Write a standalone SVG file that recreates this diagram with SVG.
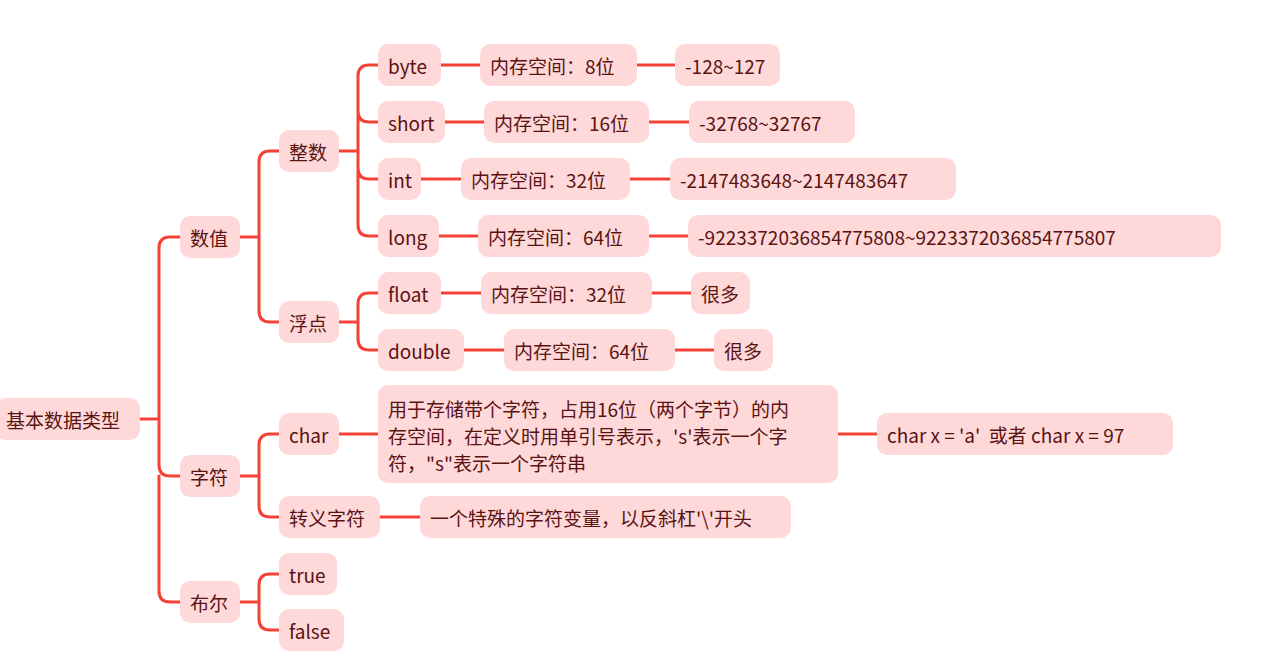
<svg xmlns="http://www.w3.org/2000/svg" width="1261" height="660" viewBox="0 0 1261 660">
<style>
.n rect{fill:#ffd9d9;stroke:none}
.n text{font-family:"Noto Sans CJK SC","Noto Sans",sans-serif;font-size:19px;fill:#5a1212;dominant-baseline:central}
#c path{fill:none;stroke:#f44336;stroke-width:3;stroke-linecap:round}
</style>
<rect width="1261" height="660" fill="#fff"/>
<g id="c">
<path d="M140 419H159M159 419V248Q159 237 170 237H180M159 419V465Q159 476 170 476H180M159 476V591Q159 602 170 602H180"/>
<path d="M240 237H259M259 237V162Q259 151 270 151H279M259 237V311Q259 322 270 322H279"/>
<path d="M339 151H358M358 151V76Q358 65 369 65H378M358 151V111Q358 122 369 122H378M358 151V168Q358 179 369 179H378M358 151V225Q358 236 369 236H378"/>
<path d="M339 322H358M358 322V304Q358 293 369 293H378M358 322V339Q358 350 369 350H378"/>
<path d="M240 476H259M259 476V445Q259 434 270 434H279M259 476V506Q259 517 270 517H279"/>
<path d="M240 602H259M259 602V585Q259 574 270 574H279M259 602V619Q259 630 270 630H279"/>
<path d="M441 65H480M637 65H675M445 122H484M649 122H689M421 179H461M630 179H670M439 236H478M649 236H688M441 293H481M652 293H691M464 350H504M675 350H714M339 434H378M838 434H877M380 517H420"/>
</g>
<g id="n0" class="n"><rect x="-4" y="398" width="144" height="42" rx="10"/><text x="6" y="419">基本数据类型</text></g>
<g id="n1" class="n"><rect x="180" y="216" width="60" height="42" rx="10"/><text x="190" y="237">数值</text></g>
<g id="n2" class="n"><rect x="180" y="455" width="60" height="42" rx="10"/><text x="190" y="476">字符</text></g>
<g id="n3" class="n"><rect x="180" y="581" width="60" height="42" rx="10"/><text x="190" y="602">布尔</text></g>
<g id="n4" class="n"><rect x="279" y="130" width="60" height="42" rx="10"/><text x="289" y="151">整数</text></g>
<g id="n5" class="n"><rect x="279" y="301" width="60" height="42" rx="10"/><text x="289" y="322">浮点</text></g>
<g id="n6" class="n"><rect x="378" y="44" width="63" height="42" rx="10"/><text x="388" y="65">byte</text></g>
<g id="n7" class="n"><rect x="378" y="101" width="67" height="42" rx="10"/><text x="388" y="122">short</text></g>
<g id="n8" class="n"><rect x="378" y="158" width="43" height="42" rx="10"/><text x="388" y="179">int</text></g>
<g id="n9" class="n"><rect x="378" y="215" width="61" height="42" rx="10"/><text x="388" y="236">long</text></g>
<g id="n10" class="n"><rect x="378" y="272" width="63" height="42" rx="10"/><text x="388" y="293">float</text></g>
<g id="n11" class="n"><rect x="378" y="329" width="86" height="42" rx="10"/><text x="388" y="350">double</text></g>
<g id="n12" class="n"><rect x="480" y="44" width="157" height="42" rx="10"/><text x="490" y="65">内存空间：8位</text></g>
<g id="n13" class="n"><rect x="675" y="44" width="105" height="42" rx="10"/><text x="685" y="65">-128~127</text></g>
<g id="n14" class="n"><rect x="484" y="101" width="165" height="42" rx="10"/><text x="494" y="122">内存空间：16位</text></g>
<g id="n15" class="n"><rect x="689" y="101" width="166" height="42" rx="10"/><text x="699" y="122">-32768~32767</text></g>
<g id="n16" class="n"><rect x="461" y="158" width="169" height="42" rx="10"/><text x="471" y="179">内存空间：32位</text></g>
<g id="n17" class="n"><rect x="670" y="158" width="286" height="42" rx="10"/><text x="680" y="179">-2147483648~2147483647</text></g>
<g id="n18" class="n"><rect x="478" y="215" width="171" height="42" rx="10"/><text x="488" y="236">内存空间：64位</text></g>
<g id="n19" class="n"><rect x="688" y="215" width="533" height="42" rx="10"/><text x="698" y="236">-9223372036854775808~9223372036854775807</text></g>
<g id="n20" class="n"><rect x="481" y="272" width="171" height="42" rx="10"/><text x="491" y="293">内存空间：32位</text></g>
<g id="n21" class="n"><rect x="691" y="272" width="59" height="42" rx="10"/><text x="701" y="293">很多</text></g>
<g id="n22" class="n"><rect x="504" y="329" width="171" height="42" rx="10"/><text x="514" y="350">内存空间：64位</text></g>
<g id="n23" class="n"><rect x="714" y="329" width="59" height="42" rx="10"/><text x="724" y="350">很多</text></g>
<g id="n24" class="n"><rect x="279" y="413" width="60" height="42" rx="10"/><text x="289" y="434">char</text></g>
<g id="n25" class="n"><rect x="378" y="385" width="460" height="98" rx="10"/><text x="388" y="408">用于存储带个字符，占用16位（两个字节）的内</text><text x="388" y="435">存空间，在定义时用单引号表示，'s'表示一个字</text><text x="388" y="462">符，"s"表示一个字符串</text></g>
<g id="n26" class="n"><rect x="877" y="413" width="296" height="42" rx="10"/><text x="887" y="434" xml:space="preserve">char x = 'a'  或者 char x = 97</text></g>
<g id="n27" class="n"><rect x="279" y="496" width="101" height="42" rx="10"/><text x="289" y="517">转义字符</text></g>
<g id="n28" class="n"><rect x="420" y="496" width="371" height="42" rx="10"/><text x="430" y="517">一个特殊的字符变量，以反斜杠'\'开头</text></g>
<g id="n29" class="n"><rect x="279" y="553" width="58" height="42" rx="10"/><text x="289" y="574">true</text></g>
<g id="n30" class="n"><rect x="279" y="609" width="65" height="42" rx="10"/><text x="289" y="630">false</text></g>
</svg>
